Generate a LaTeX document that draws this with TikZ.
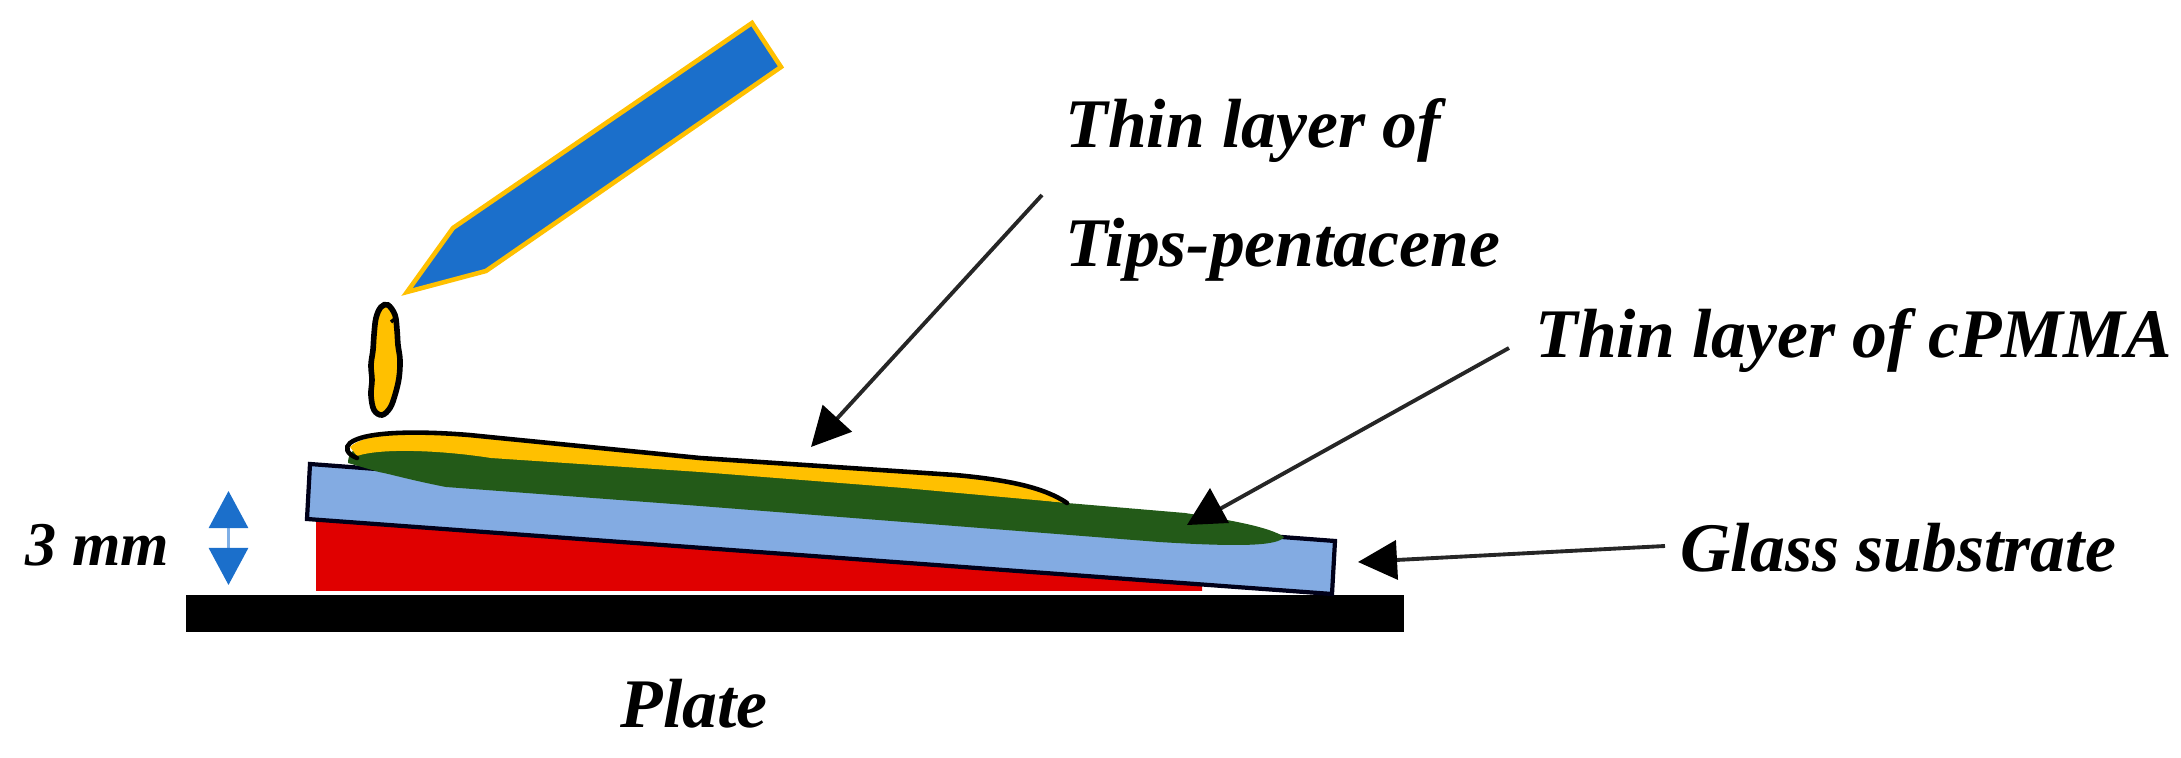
\documentclass[tikz,border=0pt]{standalone}
\usepackage{fontspec}
\setmainfont{Liberation Serif}
\usetikzlibrary{arrows.meta}
\definecolor{penblue}{HTML}{1B6FCB}
\definecolor{shaftblue}{HTML}{7FAFE6}
\definecolor{amberc}{HTML}{FFC000}
\definecolor{glassb}{HTML}{83ABE2}
\definecolor{greenl}{HTML}{235A18}
\definecolor{redw}{HTML}{E00000}
\tikzset{
  x=0.01cm,y=-0.01cm,
  lab/.style={font=\bfseries\itshape\fontsize{19.8}{22}\selectfont,inner sep=0pt,anchor=base west},
  smalllab/.style={font=\bfseries\itshape\fontsize{17.7}{20}\selectfont,inner sep=0pt,anchor=base west},
  ptr/.style={draw=black!85,line width=1.1pt,-{Triangle[length=0.39cm,width=0.39cm,black]}},
  ptrline/.style={draw=black!85,line width=1.1pt},
  dbl/.style={draw=shaftblue,line width=0.8pt,{Triangle[length=0.37cm,width=0.39cm,penblue]}-{Triangle[length=0.37cm,width=0.39cm,penblue]}}
}
\begin{document}
\begin{tikzpicture}
\useasboundingbox (0,0) rectangle (2181,758);
% plate
\fill[black] (186,595) rectangle (1404,632);
% wedge
\fill[redw] (316,520) -- (316,591) -- (1202,591) -- (1202,585) -- cycle;
% glass
\draw[fill=glassb,line width=1.2pt,draw=black!90!blue] (310,464) -- (1335,541) -- (1332,594) -- (307,519) -- cycle;
% green layer
\fill[greenl] (348,463) .. controls (348,455) and (352,448) .. (365,446)
  -- (700,462) -- (1067,503) -- (1185,513) .. controls (1230,520) and (1270,527) .. (1284,537)
  .. controls (1278,546) and (1240,547) .. (1159,542)
  -- (700,506) -- (446,487) .. controls (410,480) and (390,474) .. (379,472)
  -- cycle;
% tips layer
\fill[amberc] (350,447) .. controls (365,432) and (420,431) .. (469,436)
  -- (700,458) -- (955,475) .. controls (1010,480) and (1045,488) .. (1065,503)
  -- (1057,502) -- (904,488) -- (700,472) -- (491,458)
  .. controls (440,450) and (380,448) .. (357,456) -- cycle;
\draw[line width=1.3pt,line cap=round] (357,458) .. controls (346,454) and (345,447) .. (350,443)
  .. controls (365,431) and (420,431) .. (469,435)
  -- (700,458) -- (955,475) .. controls (1010,480) and (1045,488) .. (1067,503);
% pen
\draw[fill=penblue,draw=amberc,line width=1.3pt,line join=miter] (752,23) -- (781,67) -- (486,271) -- (407,292) -- (453,228) -- cycle;
% drop
\draw[fill=amberc,line width=1.6pt] plot[smooth cycle,tension=0.6] coordinates {(388,305) (395,315) (397,330) (398,345) (400,360) (399,378) (395,395) (390,408) (382,415) (374,410) (371,395) (372,380) (371,365) (373,350) (374,335) (376,318) (381,307)};
\draw[line width=1pt] (396,318) -- (391,322);
% double arrow
\coordinate (a1) at (228.5,491); \coordinate (a2) at (228.5,585);
\draw[dbl] (a1) -- (a2);
% labels
\node[lab] (t1) at (1065,148) {Thin layer of};
\node[lab] (t2) at (1065,267) {Tips-pentacene};
\node[lab] (t3) at (1535,358) {Thin layer of cPMMA};
\node[lab] (t4) at (1680,572) {Glass substrate};
\node[smalllab] (t5) at (25,566) {3 mm};
\node[lab] (t6) at (620,727) {Plate};
% pointers
\coordinate (p1s) at (1042,195); \coordinate (p1e) at (811,447);
\coordinate (p2s) at (1509,348); \coordinate (p2e) at (1218,510);
\coordinate (p3s) at (1665,546); \coordinate (p3e) at (1358,562);
\draw[ptr] (p1s) -- (p1e);
\draw[ptrline] (p2s) -- (p2e);
\fill[black] (1210,488) -- (1229,523) -- (1187,525) -- cycle;
\draw[ptr] (p3s) -- (p3e);
\end{tikzpicture}
\end{document}
